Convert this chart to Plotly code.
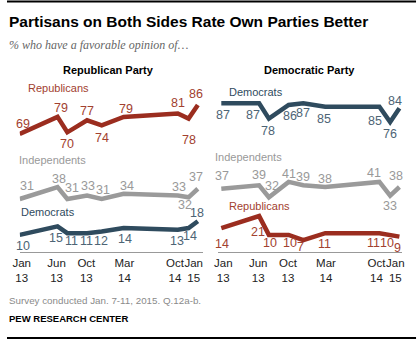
import plotly.graph_objects as go

# ---- data ----
survey_dates = ['2013-01-10', '2013-06-14', '2013-07-24', '2013-10-13', '2013-12-12',
                '2014-03-12', '2014-10-20', '2014-12-03', '2015-01-10']

# Favorable view of the Republican Party, by group
rp_republicans = [69, 79, 70, 77, 74, 79, 81, 78, 86]
rp_independents = [31, 38, 31, 33, 31, 34, 33, 32, 37]
rp_democrats = [10, 15, 11, 11, 12, 14, 13, 14, 18]

# Favorable view of the Democratic Party, by group
dp_democrats = [87, 87, 78, 86, 87, 85, 85, 76, 84]
dp_independents = [37, 39, 32, 41, 39, 38, 41, 33, 38]
dp_republicans = [14, 21, 10, 10, 7, 11, 11, 10, 9]

tick_dates = ['2013-01-18', '2013-06-10', '2013-10-10', '2014-03-15', '2014-10-08', '2014-12-24']
tick_text = ['Jan<br>13', 'Jun<br>13', 'Oct<br>13', 'Mar<br>14', 'Oct<br>14', 'Jan<br>15']

# ---- style ----
W, H = 420, 340
REP = '#9b2d1f'
REP_TXT = '#a2412f'
DEM = '#2f4b5e'
DEM_TXT = '#4d6475'
IND = '#9a9a9a'
IND_TXT = '#999999'
FONT = 'Liberation Sans, Arial, sans-serif'

# label offsets in pixels (dx, dy; dy positive = downward)
off_rp_rep = [(3, -10), (3, -9), (0, 12), (0, -9), (0, 13), (2, -8), (0, -10), (0, 21), (-2, -11)]
off_rp_ind = [(7, -13), (1, -8), (5, -11), (1, -10), (1, -9), (3, -8), (1, -9), (-4, 8), (-2, -12)]
off_rp_dem = [(3, 11), (-2, 12), (4, 8), (-1, 8), (-1, 10), (1, 11), (-1, 11), (1, 8), (-1, -8)]
off_dp_dem = [(2, 12), (-6, 12), (-1, 12), (1, 11), (0, 10), (-1, 12), (-4, 14), (0, 12), (-4, -7)]
off_dp_ind = [(1, -13), (0, -10), (3, -11), (0, -8), (0, -8), (0, -8), (-5, -9), (0, 10), (-3, -11)]
off_dp_rep = [(1, 16), (-1, 16), (1, 8), (1, 8), (-3, 7), (-1, 11), (-6, 10), (-3, 8), (-2, 11)]

fig = go.Figure()

series = [
    ('x', 'y', rp_republicans, REP, REP_TXT, off_rp_rep),
    ('x', 'y', rp_independents, IND, IND_TXT, off_rp_ind),
    ('x', 'y', rp_democrats, DEM, DEM_TXT, off_rp_dem),
    ('x2', 'y2', dp_democrats, DEM, DEM_TXT, off_dp_dem),
    ('x2', 'y2', dp_independents, IND, IND_TXT, off_dp_ind),
    ('x2', 'y2', dp_republicans, REP, REP_TXT, off_dp_rep),
]

annotations = []
for xa, ya, vals, col, tcol, offs in series:
    fig.add_trace(go.Scatter(x=survey_dates, y=vals, mode='lines', xaxis=xa, yaxis=ya,
                             line=dict(color=col, width=4.5), hoverinfo='skip', showlegend=False))
    for d, v, (dx, dy) in zip(survey_dates, vals, offs):
        annotations.append(dict(x=d, y=v, xref=xa, yref=ya, text=str(v), showarrow=False,
                                xshift=dx, yshift=-dy, xanchor='center', yanchor='middle',
                                font=dict(family=FONT, size=12.5, color=tcol)))


def px(x, y, text, size, color, bold=False, italic=False, family=FONT, xanchor='left'):
    t = f'<b>{text}</b>' if bold else text
    t = f'<i>{t}</i>' if italic else t
    annotations.append(dict(x=x / W, y=1 - y / H, xref='paper', yref='paper', text=t,
                            showarrow=False, xanchor=xanchor, yanchor='middle',
                            font=dict(family=family, size=size, color=color)))


px(0, 21, 'Partisans on Both Sides Rate Own Parties Better', 15.5, '#000000', bold=True,
   family='Liberation Sans Narrow, Arial Narrow, sans-serif')
px(0, 45, '% who have a favorable opinion of…', 12, '#666666', italic=True,
   family='Liberation Serif, Georgia, serif')
px(104, 70, 'Republican Party', 11, '#000000', bold=True, xanchor='center')
px(309, 70, 'Democratic Party', 11, '#000000', bold=True, xanchor='center')
px(19, 88, 'Republicans', 11, REP_TXT)
px(10, 160, 'Independents', 11, IND_TXT)
px(12, 212, 'Democrats', 11, DEM)
px(225, 92, 'Democrats', 11, DEM)
px(211, 157, 'Independents', 11, IND_TXT)
px(225, 206, 'Republicans', 11, REP_TXT)
px(0, 300, 'Survey conducted Jan. 7-11, 2015. Q.12a-b.', 9.8, '#8a8a8a')
px(0, 318, 'PEW RESEARCH CENTER', 9.5, '#000000', bold=True)

ydom = [(H - 252) / H, (H - 81) / H]
xaxis_common = dict(type='date', showgrid=False, zeroline=False, showline=True, linecolor='#999999',
                    linewidth=1, ticks='', tickangle=0, tickvals=tick_dates, ticktext=tick_text,
                    tickfont=dict(family=FONT, size=11.5, color='#222222'), fixedrange=True)
yaxis_common = dict(range=[0, 100], domain=ydom, visible=False, fixedrange=True)

fig.update_layout(
    width=W, height=H, margin=dict(l=0, r=0, t=0, b=0),
    paper_bgcolor='white', plot_bgcolor='white',
    xaxis=dict(xaxis_common, domain=[13 / W, 200 / W], range=['2013-01-10', '2015-01-30'], anchor='y'),
    xaxis2=dict(xaxis_common, domain=[216 / W, 404 / W], range=['2012-12-29', '2015-01-22'], anchor='y2'),
    yaxis=dict(yaxis_common, anchor='x'),
    yaxis2=dict(yaxis_common, anchor='x2'),
    annotations=annotations,
    shapes=[
        dict(type='line', xref='paper', yref='paper', x0=0, x1=418 / W, y0=1 - 1.5 / H, y1=1 - 1.5 / H,
             line=dict(color='#000000', width=2)),
        dict(type='line', xref='paper', yref='paper', x0=0, x1=418 / W, y0=1 - 338 / H, y1=1 - 338 / H,
             line=dict(color='#000000', width=2)),
    ],
)

fig.write_html('out.html')
